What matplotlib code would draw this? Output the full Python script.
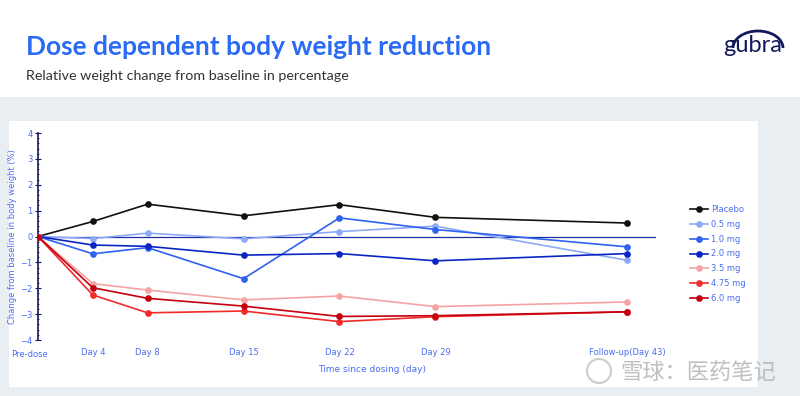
import numpy as np
import matplotlib.pyplot as plt
import matplotlib.transforms as mtransforms
from matplotlib.patches import Rectangle, Arc, Ellipse

days = [0, 4, 8, 15, 22, 29, 43]
tick_labels = ["Pre-dose", "Day 4", "Day 8", "Day 15", "Day 22", "Day 29", "Follow-up(Day 43)"]

placebo = [0, 0.58, 1.25, 0.80, 1.23, 0.74, 0.52]
mg_0_5 = [0, -0.08, 0.13, -0.09, 0.19, 0.40, -0.92]
mg_1_0 = [0, -0.67, -0.43, -1.63, 0.72, 0.27, -0.40]
mg_2_0 = [0, -0.33, -0.38, -0.72, -0.66, -0.94, -0.66]
mg_3_5 = [0, -1.82, -2.07, -2.45, -2.30, -2.71, -2.53]
mg_4_75 = [0, -2.26, -2.95, -2.88, -3.29, -3.10, -2.91]
mg_6_0 = [0, -1.98, -2.39, -2.69, -3.09, -3.06, -2.91]

series_names = ["Placebo", "0.5 mg", "1.0 mg", "2.0 mg", "3.5 mg", "4.75 mg", "6.0 mg"]
series_vals = [placebo, mg_0_5, mg_1_0, mg_2_0, mg_3_5, mg_4_75, mg_6_0]
colores = ["#111111", "#8eaaf7", "#2f62f0", "#0a25c4", "#f5a3a3", "#f22a2a", "#c4000f"]

azul_txt = "#4a6cf0"
W, H = 800, 396

fig = plt.figure(figsize=(8, 3.96), dpi=100)
fig.patch.set_facecolor("#e9eef2")

# banda blanca superior y panel blanco
fig.add_artist(Rectangle((0, 1 - 97 / H), 1, 97 / H, transform=fig.transFigure,
                         facecolor="white", edgecolor="none", zorder=0))
fig.add_artist(Rectangle((9 / W, 1 - 387 / H), (758 - 9) / W, (387 - 121) / H,
                         transform=fig.transFigure, facecolor="white", edgecolor="none", zorder=0))

fig.text(26 / W, 1 - 47 / H, "Dose dependent body weight reduction", fontsize=19,
         fontweight="bold", color="#2a6af5", family="Lato", va="center")
fig.text(26 / W, 1 - 76 / H, "Relative weight change from baseline in percentage", fontsize=10.3,
         color="#333333", family="Lato", va="center")

# logo gubra
fig.text(753 / W, 1 - 45 / H, "gubra", fontsize=17, color="#14195e", family="Lato",
         ha="center", va="center")
fig.add_artist(Arc((758 / W, 1 - 48 / H), 50 / W, 34 / H, theta1=0, theta2=180,
                   transform=fig.transFigure, color="#14195e", lw=2))

ax = fig.add_axes([38 / W, 1 - 340 / H, (656 - 38) / W, (340 - 133) / H])
ax.set_facecolor("none")

for nombre, vals, col in zip(series_names, series_vals, colores):
    ax.plot(days, vals, "-o", color=col, lw=1.2, markersize=3.8, label=nombre, zorder=3)

ax.axhline(0, color="#1a2fa0", lw=0.9, zorder=2)

ax.set_xlim(0, 45.1)
ax.set_ylim(-4, 4)
for s in ["top", "right", "bottom"]:
    ax.spines[s].set_visible(False)
ax.spines["left"].set_color("#14195e")
ax.spines["left"].set_linewidth(1.2)

ax.set_yticks(np.arange(-4, 5, 1))
ax.set_yticks(np.arange(-4, 4.01, 0.2), minor=True)
ax.tick_params(axis="y", which="major", direction="inout", length=4, color="#14195e",
               labelcolor=azul_txt, labelsize=6, pad=2)
ax.tick_params(axis="y", which="minor", direction="inout", length=2, color="#14195e")
ax.set_xticks(days)
ax.set_xticklabels(tick_labels)
ax.tick_params(axis="x", length=0, labelcolor=azul_txt, labelsize=6, pad=6)
lbl0 = ax.get_xticklabels()[0]
lbl0.set_transform(lbl0.get_transform() + mtransforms.ScaledTranslation(-0.09, -0.02, fig.dpi_scale_trans))

ax.set_xlabel("Time since dosing (day)", fontsize=6.5, color=azul_txt)
ax.xaxis.set_label_coords((372 - 38) / (656 - 38), -0.12)
ax.set_ylabel("Change from baseline in body weight (%)", fontsize=6, color=azul_txt)
ax.yaxis.set_label_coords(-21 / (656 - 38), 0.5)

fig.legend(loc="upper left", bbox_to_anchor=(690 / W, 1 - 205 / H), frameon=False,
           fontsize=6, labelcolor=azul_txt, handlelength=2.2, handletextpad=0.3,
           labelspacing=0.7, borderpad=0, borderaxespad=0)

# marca de agua
fig.add_artist(Ellipse((599 / W, 1 - 371 / H), 24 / W, 24 / H, transform=fig.transFigure,
                       facecolor="none", edgecolor="#c0c0c0", lw=1.5, alpha=0.8))
fig.text(698 / W, 1 - 372 / H, "雪球：医药笔记", fontsize=16, color="#b0b0b0", alpha=0.8,
         family=["Noto Sans CJK SC", "DejaVu Sans"], ha="center", va="center")

fig.savefig("out.png", dpi=100)
